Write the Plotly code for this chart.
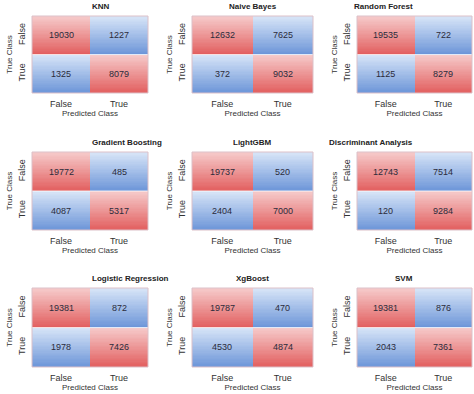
import numpy as np
import plotly.graph_objects as go

models = ["KNN", "Naive Bayes", "Random Forest",
          "Gradient Boosting", "LightGBM", "Discriminant Analysis",
          "Logistic Regression", "XgBoost", "SVM"]
# rows: true class (False, True); cols: predicted class (False, True)
true_neg = [19030, 12632, 19535, 19772, 19737, 12743, 19381, 19787, 19381]
false_pos = [1227, 7625, 722, 485, 520, 7514, 872, 470, 876]
false_neg = [1325, 372, 1125, 4087, 2404, 120, 1978, 4530, 2043]
true_pos = [8079, 9032, 8279, 5317, 7000, 9284, 7426, 4874, 7361]
class_labels = ["False", "True"]

W, H = 474, 394
col_px = [(32, 148), (192, 313), (357, 472)]
row_px = [(16, 93), (152, 230), (288, 367)]

red_scale = [[0, "#f6cccc"], [1, "#e25e5e"]]
blue_scale = [[0, "#d9e6f8"], [1, "#6c95d8"]]
FONT = "Liberation Sans, Arial, sans-serif"

N = 30  # gradient steps per cell
fig = go.Figure()
layout = dict(width=W, height=H, margin=dict(l=0, r=0, t=0, b=0),
              paper_bgcolor="white", plot_bgcolor="white",
              showlegend=False, font=dict(family=FONT, size=8, color="#333333"))
annotations = []
shapes = []

for k, name in enumerate(models):
    r, c = divmod(k, 3)
    ax = "" if k == 0 else str(k + 1)
    xa, ya = "x" + ax, "y" + ax
    mat = [[true_neg[k], false_pos[k]], [false_neg[k], true_pos[k]]]

    z_red = np.full((2 * N, 2), np.nan)
    z_blue = np.full((2 * N, 2), np.nan)
    for i in range(2 * N):
        row = i // N
        t = (i % N + 0.5) / N
        for col in range(2):
            if row == col:
                z_red[i, col] = t
            else:
                z_blue[i, col] = t
    for z, cs in ((z_red, red_scale), (z_blue, blue_scale)):
        fig.add_trace(go.Heatmap(z=z, x0=0.5, dx=1, y0=0.5 / N, dy=1.0 / N,
                                 colorscale=cs, zmin=0, zmax=1, showscale=False,
                                 hoverinfo="skip", xaxis=xa, yaxis=ya))

    x0, x1 = col_px[c][0] / W, col_px[c][1] / W
    y0, y1 = 1 - row_px[r][1] / H, 1 - row_px[r][0] / H
    layout["xaxis" + ax] = dict(domain=[x0, x1], range=[0, 2], anchor=ya,
                                tickvals=[0.5, 1.5], ticktext=class_labels,
                                showgrid=False, zeroline=False, ticks="outside",
                                ticklen=2, tickcolor="rgba(0,0,0,0)",
                                tickfont=dict(size=9, color="#333333"),
                                title=dict(text="Predicted Class", standoff=2,
                                           font=dict(size=8, color="#333333")))
    layout["yaxis" + ax] = dict(domain=[y0, y1], range=[2, 0], anchor=xa,
                                tickvals=[0.5, 1.5], ticktext=class_labels,
                                tickangle=-90,
                                showgrid=False, zeroline=False, ticks="outside",
                                ticklen=2, tickcolor="rgba(0,0,0,0)",
                                tickfont=dict(size=9, color="#333333"),
                                title=dict(text="True Class", standoff=3,
                                           font=dict(size=8, color="#333333")))
    for i in range(2):
        for j in range(2):
            annotations.append(dict(x=j + 0.5, y=i + 0.5, xref=xa, yref=ya,
                                    text=str(mat[i][j]), showarrow=False,
                                    font=dict(size=9, color="#2b2b3b")))
    annotations.append(dict(x=(x0 + x1) / 2, y=y1, xref="paper", yref="paper",
                            yanchor="bottom", yshift=3, showarrow=False,
                            text="<b>" + name + "</b>",
                            font=dict(size=8, color="#222222")))
    shapes.append(dict(type="line", xref=xa + " domain", yref=ya,
                       x0=0, x1=1, y0=1, y1=1,
                       line=dict(color="rgba(255,255,255,0.8)", width=1)))
    shapes.append(dict(type="rect", xref=xa + " domain", yref=ya + " domain",
                       x0=0, x1=1, y0=0, y1=1,
                       line=dict(color="#dcc0c8", width=1)))

layout["annotations"] = annotations
layout["shapes"] = shapes
fig.update_layout(**layout)
fig.write_html("out.html", config={"displayModeBar": False},
               post_script="document.body.style.margin='0';"
                           "document.body.style.overflow='hidden';")
